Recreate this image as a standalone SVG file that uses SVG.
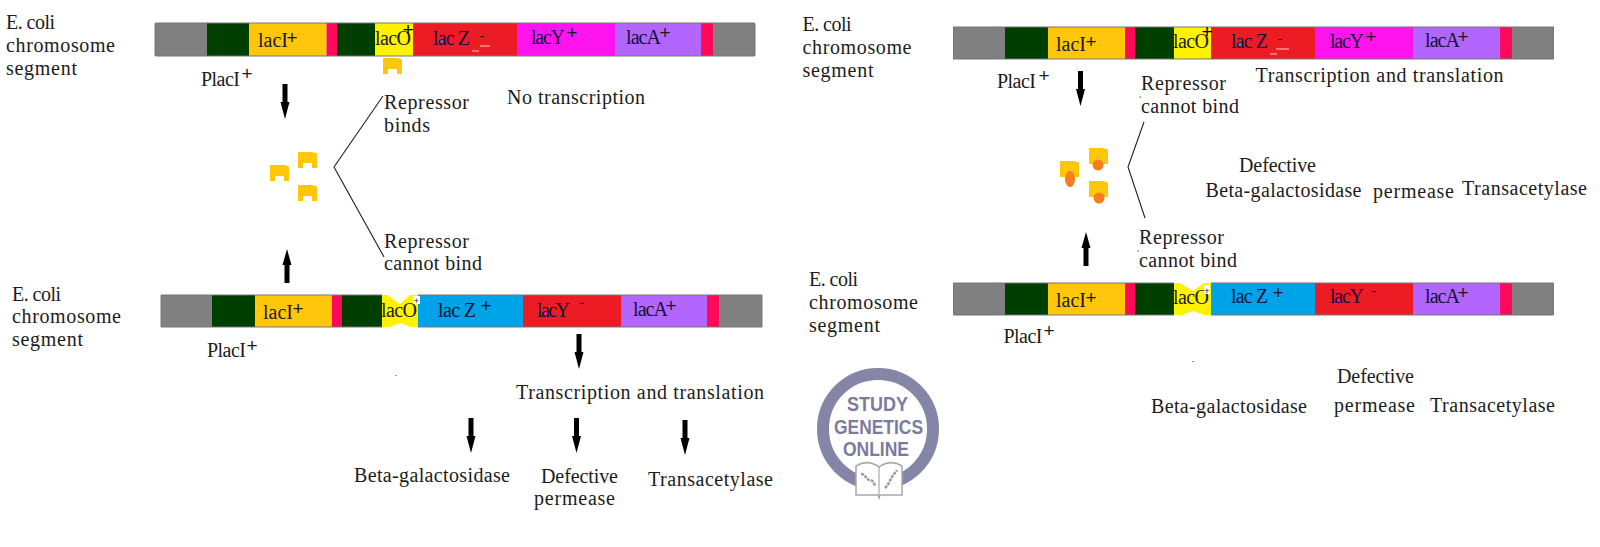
<svg xmlns="http://www.w3.org/2000/svg" width="1600" height="547" viewBox="0 0 1600 547">
<style>
text{font-family:"Liberation Serif","DejaVu Serif",serif;font-size:20px;fill:#1c1c1c}
.bl{fill:#10103a}
.p{font-family:"Liberation Sans",Arial,sans-serif;font-size:19px;fill:#1c1c1c;text-anchor:middle}
.m{font-family:"Liberation Sans",Arial,sans-serif;font-size:15px;fill:#1c1c1c;text-anchor:middle}
.pk{font-family:"Liberation Sans",Arial,sans-serif;font-size:19px;fill:#000;text-anchor:middle}
.ps{font-family:"Liberation Sans",Arial,sans-serif;font-size:9px;fill:#222;text-anchor:middle}
.logo{font-family:"Liberation Sans",Arial,sans-serif;font-weight:bold;font-size:20px;fill:#7b7b9e}
.gy{fill:#808080}.gn{fill:#003f00}.or{fill:#ffc60c}.pi{fill:#ff0a5a}.ye{fill:#fff200}.re{fill:#ed1c24}.ma{fill:#ff14f0}.pu{fill:#b266ff}.bu{fill:#00a2e8}
.frame{fill:none;stroke:#777;stroke-width:1}
.line{fill:none;stroke:#222;stroke-width:1.1}
.rep{fill:#ffc60c}
.oval{fill:#f97d1e}
.arrow{fill:#000}
.ul{stroke:#ffb0b0;stroke-width:1.2}
.tick{stroke:#555;stroke-width:.8}
</style>
<defs>
<path id="rep" d="M0 0L14 0L19 1.500L19 16L14 16L14 11L5 11L5 16L0 16Z"/>
<path id="repb" d="M0 0L14 0L19 1.500L19 16L0 16Z"/>
<path id="down" d="M-2.500 -35L2.500 -35L2.500 -17L4.500 -17L0 0L-4.500 -17L-2.500 -17Z"/>
<path id="up" d="M-2.500 34L2.500 34L2.500 16L4.500 16L0 0L-4.500 16L-2.500 16Z"/>
</defs>

<g id="connectors">
<use href="#down" class="arrow" x="285" y="119"/>
<use href="#up" class="arrow" x="287" y="249"/>
<use href="#down" class="arrow" x="579" y="369"/>
<use href="#down" class="arrow" x="471" y="453"/>
<use href="#down" class="arrow" x="576.500" y="453"/>
<use href="#down" class="arrow" x="685" y="455"/>
<use href="#down" class="arrow" x="1080.500" y="106"/>
<use href="#up" class="arrow" x="1086" y="232"/>
<polyline class="line" points="383,96 334,167 384,257"/>
<polyline class="line" points="1144,122 1128,167 1145,218"/>
</g>

<g id="bar-1">
<rect class="gy" x="155" y="23" width="53" height="33"/>
<rect class="gn" x="207" y="23" width="42" height="33"/>
<rect class="or" x="249" y="23" width="77.500" height="33"/>
<rect class="pi" x="326.500" y="23" width="10.500" height="33"/>
<rect class="gn" x="337" y="23" width="38" height="33"/>
<rect class="ye" x="375" y="23" width="38" height="33"/>
<rect class="re" x="413" y="23" width="104" height="33"/>
<rect class="ma" x="517" y="23" width="98" height="33"/>
<rect class="pu" x="615" y="23" width="86" height="33"/>
<rect class="pi" x="701" y="23" width="12" height="33"/>
<rect class="gy" x="713" y="23" width="42" height="33"/>
<rect class="frame" x="155" y="23" width="600" height="33" rx="1"/>
<circle cx="441" cy="41" r="1.800" fill="#00a2e8"/>
<line class="ul" x1="480" y1="46" x2="490" y2="46"/>
<line class="ul" x1="472" y1="51" x2="479" y2="51"/>
<text x="258" y="47" textLength="30">lacI</text><text class="p" x="292" y="44">+</text>
<text x="375" y="45" textLength="36">lacO</text><text class="pk" x="408" y="36">+</text>
<text class="bl" x="433" y="45" textLength="37">lac Z</text><text class="m" x="482" y="41">-</text>
<text class="bl" x="531" y="44" textLength="34">lacY</text><text class="p" x="572" y="39">+</text>
<text class="bl" x="626" y="44" textLength="35">lacA</text><text class="p" x="665" y="39">+</text>
</g>

<g id="bar-2">
<rect class="gy" x="161" y="295" width="52" height="32"/>
<rect class="gn" x="212" y="295" width="43" height="32"/>
<rect class="or" x="255" y="295" width="77" height="32"/>
<rect class="pi" x="332" y="295" width="10" height="32"/>
<rect class="gn" x="342" y="295" width="40" height="32"/>
<path class="ye" d="M382 295L388 295L400 304L410 295L418 295L418 327L411 327L400 323L390 327L382 327Z"/>
<rect class="bu" x="418" y="295" width="105" height="32"/>
<rect class="re" x="523" y="295" width="98" height="32"/>
<rect class="pu" x="621" y="295" width="86" height="32"/>
<rect class="pi" x="707" y="295" width="12" height="32"/>
<rect class="gy" x="719" y="295" width="43" height="32"/>
<path class="frame" d="M382 295H161V327H382M418 327H762V295H418"/>
<circle cx="546" cy="313" r="1.800" fill="#ff14f0"/>
<text x="263" y="319" textLength="30">lacI</text><text class="p" x="298" y="315">+</text>
<text x="381" y="317" textLength="36">lacO</text><rect x="413" y="296" width="7" height="8" fill="#fff"/><text class="ps" x="416.500" y="304">+</text>
<text class="bl" x="438" y="317" textLength="38">lac Z</text><text class="p" x="486" y="312">+</text>
<text class="bl" x="537" y="317" textLength="33">lacY</text><text class="m" x="582" y="308">-</text>
<text class="bl" x="633" y="316" textLength="35">lacA</text><text class="p" x="671" y="312">+</text>
</g>

<g id="bar-3">
<rect class="gy" x="953.500" y="27" width="52" height="32"/>
<rect class="gn" x="1005" y="27" width="43" height="32"/>
<rect class="or" x="1048" y="27" width="77" height="32"/>
<rect class="pi" x="1125" y="27" width="10" height="32"/>
<rect class="gn" x="1135" y="27" width="39" height="32"/>
<rect class="ye" x="1174" y="27" width="37" height="32"/>
<rect class="re" x="1211" y="27" width="104" height="32"/>
<rect class="ma" x="1315" y="27" width="98" height="32"/>
<rect class="pu" x="1413" y="27" width="86.500" height="32"/>
<rect class="pi" x="1499.500" y="27" width="12.500" height="32"/>
<rect class="gy" x="1512" y="27" width="41.500" height="32"/>
<rect class="frame" x="953.500" y="27" width="600" height="32"/>
<circle cx="1240" cy="44" r="1.800" fill="#00a2e8"/>
<line class="ul" x1="1276" y1="49" x2="1289" y2="49"/>
<line class="ul" x1="1270" y1="54" x2="1277" y2="54"/>
<text x="1056" y="51" textLength="30">lacI</text><text class="p" x="1091" y="48">+</text>
<text x="1173" y="48" textLength="36">lacO</text><text class="pk" x="1207" y="38">+</text>
<text class="bl" x="1231" y="48" textLength="37">lac Z</text><text class="m" x="1280" y="44">-</text>
<text class="bl" x="1330" y="48" textLength="34">lacY</text><text class="p" x="1371" y="43">+</text>
<text class="bl" x="1425" y="47" textLength="35">lacA</text><text class="p" x="1463" y="43">+</text>
</g>

<g id="bar-4">
<rect class="gy" x="953.500" y="283" width="52" height="32"/>
<rect class="gn" x="1005" y="283" width="43" height="32"/>
<rect class="or" x="1048" y="283" width="77" height="32"/>
<rect class="pi" x="1125" y="283" width="10" height="32"/>
<rect class="gn" x="1135" y="283" width="39" height="32"/>
<path class="ye" d="M1174 283L1180 283L1193 291L1204 283L1211 283L1211 315L1204 315L1193 311L1182 315L1174 315Z"/>
<rect class="bu" x="1211" y="283" width="104" height="32"/>
<rect class="re" x="1315" y="283" width="98" height="32"/>
<rect class="pu" x="1413" y="283" width="86.500" height="32"/>
<rect class="pi" x="1499.500" y="283" width="12.500" height="32"/>
<rect class="gy" x="1512" y="283" width="41.500" height="32"/>
<path class="frame" d="M1174 283H953.500V315H1174M1211 315H1553.500V283H1211"/>
<circle cx="1338" cy="301" r="1.800" fill="#ff14f0"/>
<text x="1056" y="307" textLength="30">lacI</text><text class="p" x="1091" y="304">+</text>
<text x="1173" y="304" textLength="36">lacO</text><rect x="1204" y="285" width="6" height="9" fill="#fff"/><text class="ps" x="1207" y="294">+</text>
<text class="bl" x="1231" y="303" textLength="37">lac Z</text><text class="p" x="1278" y="299">+</text>
<text class="bl" x="1330" y="303" textLength="34">lacY</text><text class="m" x="1374" y="296">-</text>
<text class="bl" x="1425" y="303" textLength="35">lacA</text><text class="p" x="1463" y="299">+</text>
</g>

<g id="repressors-left">
<use href="#rep" class="rep" x="383" y="58"/>
<use href="#rep" class="rep" x="298" y="152"/>
<use href="#rep" class="rep" x="270" y="165"/>
<use href="#rep" class="rep" x="298" y="185"/>
</g>

<g id="repressors-right">
<use href="#repb" class="rep" x="1060" y="161"/>
<ellipse class="oval" cx="1070" cy="179" rx="5" ry="8"/>
<use href="#repb" class="rep" x="1089" y="148"/>
<circle class="oval" cx="1098" cy="165" r="5.500"/>
<use href="#repb" class="rep" x="1089" y="181"/>
<circle class="oval" cx="1099" cy="198" r="5.500"/>
</g>

<g id="labels-top-left">
<text x="6" y="29" textLength="49">E. coli</text>
<text x="6" y="52" textLength="109">chromosome</text>
<text x="6" y="75" textLength="71">segment</text>
<text x="201" y="86" textLength="39">PlacI</text><text class="p" x="247" y="80">+</text>
<text x="384" y="109" textLength="85">Repressor</text>
<text x="384" y="132" textLength="46">binds</text>
<text x="507" y="104" textLength="138">No transcription</text>
<text x="384" y="248" textLength="85">Repressor</text>
<text x="384" y="270" textLength="98">cannot bind</text>
</g>

<g id="labels-bottom-left">
<text x="12" y="301" textLength="49">E. coli</text>
<text x="12" y="323" textLength="109">chromosome</text>
<text x="12" y="346" textLength="71">segment</text>
<text x="207" y="357" textLength="39">PlacI</text><text class="p" x="252" y="352">+</text>
<text x="516" y="399" textLength="248">Transcription and translation</text>
<text x="354" y="482" textLength="156">Beta-galactosidase</text>
<text x="541" y="483" textLength="77">Defective</text>
<text x="534" y="505" textLength="81">permease</text>
<text x="648" y="486" textLength="125">Transacetylase</text>
<rect x="395" y="375" width="2" height="1" fill="#999"/>
</g>

<g id="labels-top-right">
<text x="802.500" y="31" textLength="49">E. coli</text>
<text x="802.500" y="54" textLength="109">chromosome</text>
<text x="802.500" y="77" textLength="71">segment</text>
<text x="997" y="88" textLength="39">PlacI</text><text class="p" x="1044" y="82">+</text>
<text x="1255.500" y="82" textLength="248">Transcription and translation</text>
<text x="1141" y="90" textLength="85">Repressor</text>
<text x="1141" y="113" textLength="98">cannot bind</text>
<line class="tick" x1="1140" y1="96" x2="1140.500" y2="98"/>
<text x="1239" y="172" textLength="77">Defective</text>
<text x="1205.500" y="197" textLength="156">Beta-galactosidase</text>
<text x="1373" y="198" textLength="81">permease</text>
<text x="1462" y="195" textLength="125">Transacetylase</text>
<text x="1139" y="244" textLength="85">Repressor</text>
<text x="1139" y="267" textLength="98">cannot bind</text>
<line class="tick" x1="1138" y1="250" x2="1138.500" y2="252"/>
</g>

<g id="labels-bottom-right">
<text x="809" y="286" textLength="49">E. coli</text>
<text x="809" y="309" textLength="109">chromosome</text>
<text x="809" y="332" textLength="71">segment</text>
<text x="1003.500" y="343" textLength="39">PlacI</text><text class="p" x="1049" y="337">+</text>
<text x="1337" y="383" textLength="77">Defective</text>
<text x="1151" y="413" textLength="156">Beta-galactosidase</text>
<text x="1334" y="412" textLength="81">permease</text>
<text x="1430" y="412" textLength="125">Transacetylase</text>
<rect x="1192" y="361" width="2" height="1" fill="#999"/>
</g>

<g id="logo">
<circle cx="878" cy="429" r="55" fill="#fff" stroke="#8585a8" stroke-width="12"/>
<text class="logo" x="847" y="411" textLength="61" lengthAdjust="spacingAndGlyphs">STUDY</text>
<text class="logo" x="834" y="434" textLength="89" lengthAdjust="spacingAndGlyphs">GENETICS</text>
<text class="logo" x="843" y="456" textLength="66" lengthAdjust="spacingAndGlyphs">ONLINE</text>
<path d="M856 466C864 461 872 462 879 467C886 462 894 461 902 466L902 495L880 495L879 498L878 495L856 495Z" fill="#fff" stroke="#a8a8a8" stroke-width="1.500"/>
<path d="M879 467V495" stroke="#a8a8a8" stroke-width="1.200" fill="none"/>
<path d="M861 474C866 474 866 480 870 480C874 480 874 486 876 486" fill="none" stroke="#999" stroke-width="2.500" stroke-dasharray="3 1"/>
<path d="M885 488C889 484 890 480 892 477C894 474 896 472 897 470" fill="none" stroke="#999" stroke-width="2.500" stroke-dasharray="3 1"/>
</g>
</svg>
